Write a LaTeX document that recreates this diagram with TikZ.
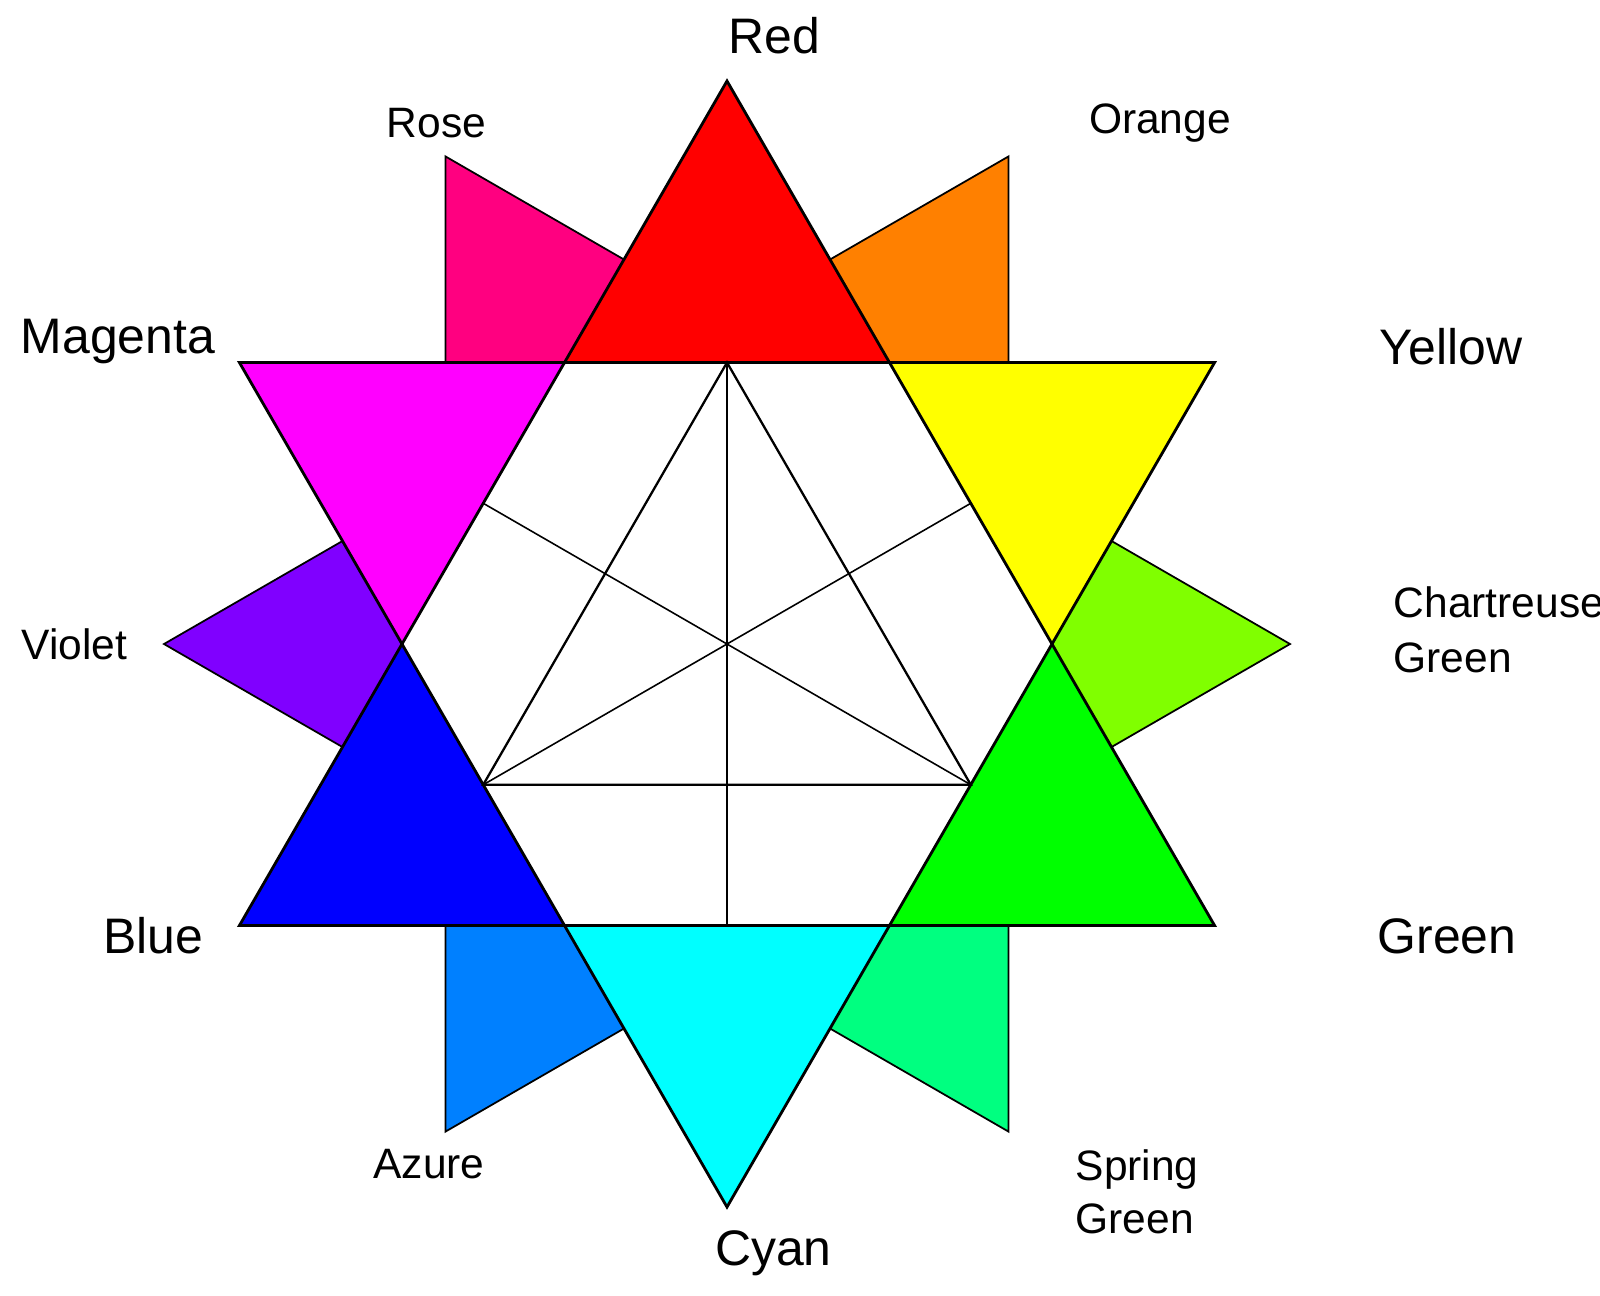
\documentclass[tikz,border=0pt]{standalone}
\usepackage{fontspec}
\setmainfont{Liberation Sans}
\usetikzlibrary{positioning}

\definecolor{cRed}{RGB}{255,0,0}
\definecolor{cOrange}{RGB}{255,128,0}
\definecolor{cYellow}{RGB}{255,255,0}
\definecolor{cChartreuse}{RGB}{128,255,0}
\definecolor{cGreen}{RGB}{0,255,0}
\definecolor{cSpring}{RGB}{0,255,128}
\definecolor{cCyan}{RGB}{0,255,255}
\definecolor{cAzure}{RGB}{0,128,255}
\definecolor{cBlue}{RGB}{0,0,255}
\definecolor{cViolet}{RGB}{128,0,255}
\definecolor{cMagenta}{RGB}{255,0,255}
\definecolor{cRose}{RGB}{255,0,128}

\begin{document}
\begin{tikzpicture}[
		bigname/.style={font=\fontsize{14.2}{17}\selectfont, inner sep=0pt, anchor=base},
		smallname/.style={font=\fontsize{12.1}{15}\selectfont, inner sep=0pt, anchor=base},
		leftname/.style={smallname, anchor=base west},
		tertiary/.style={draw=black, line width=0.5pt, line join=miter},
		primary/.style={draw=black, line width=0.8pt, line join=miter}]
		
		\useasboundingbox (-7.27,-6.51) rectangle (8.73,6.44);
		
		\def\R{5.63}
		\def\r{3.25}
		\def\m{2.815}
		
		% points of the turned star (tertiary)
		\foreach \a/\c in {0/cChartreuse, 60/cOrange, 120/cRose, 180/cViolet, 240/cAzure, 300/cSpring}
			\filldraw[tertiary, fill=\c] (\a:\R) -- ({\a+30}:\r) -- ({\a-30}:\r) -- cycle;
		
		% white hexagon in the middle
		\fill[white] (0:\r) -- (60:\r) -- (120:\r) -- (180:\r) -- (240:\r) -- (300:\r) -- cycle;
		
		% points of the main star
		\foreach \a/\c in {90/cRed, 30/cYellow, 330/cGreen, 270/cCyan, 210/cBlue, 150/cMagenta}
			\filldraw[primary, fill=\c] (\a:\R) -- ({\a+30}:\r) -- ({\a-30}:\r) -- cycle;
		
		% midpoints of the hexagon sides
		\coordinate (mtop) at (90:\m);
		\coordinate (mbotleft) at (210:\m);
		\coordinate (mbotright) at (330:\m);
		\coordinate (mbot) at (270:\m);
		\coordinate (mtopright) at (30:\m);
		\coordinate (mtopleft) at (150:\m);
		
		\draw [line width=0.65pt, line join=miter] (mtop) -- (mbotleft) -- (mbotright) -- cycle;
		\draw [line width=0.45pt] (mtop) -- (mbot);
		\draw [line width=0.45pt] (mbotleft) -- (mtopright);
		\draw [line width=0.45pt] (mbotright) -- (mtopleft);
		
		% labels
		\node[bigname] (red) at (0.47,5.91) {Red};
		\node[bigname] (magenta) at (-6.09,2.91) {Magenta};
		\node[bigname] (yellow) at (7.24,2.80) {Yellow};
		\node[bigname] (blue) at (-5.74,-3.09) {Blue};
		\node[bigname] (green) at (7.20,-3.09) {Green};
		\node[bigname] (cyan) at (0.465,-6.21) {Cyan};
		
		\node[smallname] (rose) at (-2.905,5.07) {Rose};
		\node[smallname] (orange) at (4.33,5.11) {Orange};
		\node[smallname] (violet) at (-6.525,-0.15) {Violet};
		\node[smallname] (azure) at (-2.98,-5.34) {Azure};
		\node[leftname] (chartreuse) at (6.66,0.27) {Chartreuse};
		\node[leftname] (chartreusegreen) at (6.66,-0.28) {Green};
		\node[leftname] (spring) at (3.48,-5.36) {Spring};
		\node[leftname] (springgreen) at (3.48,-5.89) {Green};
		
	\end{tikzpicture}
\end{document}
